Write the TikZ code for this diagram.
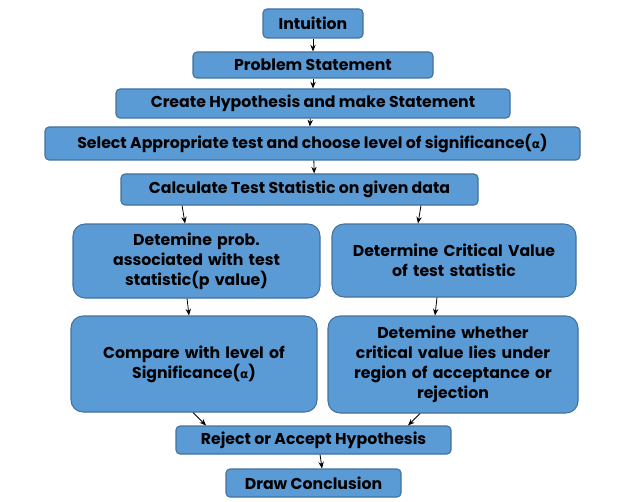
\documentclass[tikz,border=0pt]{standalone}
\usepackage{fontspec}
\setmainfont{Poppins}
\newfontfamily\grk{DejaVu Sans}
\usetikzlibrary{arrows.meta}
\begin{document}
\begin{tikzpicture}[x=0.75pt,y=-0.75pt,
 box/.style={line width=0.8pt, fill={rgb,255:red,91;green,155;blue,213}, font=\bfseries\fontsize{11.8}{15}\selectfont, align=center, inner sep=1pt, rounded corners=3pt},
 big/.style={box, rounded corners=9pt},
 arr/.style={-{Stealth[length=5pt,width=4pt]}, line width=0.6pt}]
\useasboundingbox (0,0) rectangle (634,502);
\definecolor{bd}{RGB}{65,113,156}
\tikzset{box/.append style={draw=bd}}
\node[box,minimum width=75pt,minimum height=21.75pt] (intu) at (313,23.5) {Intuition};
\node[box,minimum width=180pt,minimum height=19.5pt] (prob) at (313,65) {Problem Statement};
\node[box,minimum width=295.5pt,minimum height=21.75pt] (hyp) at (313,103.5) {Create Hypothesis and make Statement};
\node[box,minimum width=401.25pt,minimum height=24.75pt] (sel) at (312.5,143.5) {Select Appropriate test and choose level of significance({\grk\small α})};
\node[box,minimum width=267.75pt,minimum height=23.25pt] (calc) at (299.5,189.5) {Calculate Test Statistic on given data};
\node[big,minimum width=185.25pt,minimum height=55.5pt,text width=180pt] (pv) at (196.5,261) {Detemine prob.\\associated with test\\statistic(p value)};
\node[big,minimum width=183pt,minimum height=54.75pt,text width=180pt] (cv) at (454,260.5) {Determine Critical Value\\of test statistic\\[10pt]};
\node[big,minimum width=184.5pt,minimum height=72pt,text width=180pt] (cmp) at (194,364) {Compare with level of\\Significance({\grk\small α})\\[14pt]};
\node[big,minimum width=187.5pt,minimum height=72.75pt,text width=185pt] (wh) at (453,364.5) {Detemine whether\\critical value lies under\\region of acceptance or\\rejection};
\node[box,minimum width=206.25pt,minimum height=21pt] (rej) at (313.5,440) {Reject or Accept Hypothesis};
\node[box,minimum width=131.25pt,minimum height=21pt] (dc) at (313.5,483) {Draw Conclusion};
\draw[arr] (intu.south) -- (prob.north);
\draw[arr] (prob.south) -- (hyp.north);
\draw[arr] ([xshift=-2pt]hyp.south) -- ([xshift=-2pt]sel.north);
\draw[arr] ([xshift=1pt]sel.south) -- ([xshift=11pt]calc.north);
\draw[arr] ([xshift=-88.1pt]calc.south) -- ([xshift=-8.6pt]pv.north);
\draw[arr] ([xshift=91.1pt]calc.south) -- ([xshift=-27pt]cv.north);
\draw[arr] ([xshift=-7.1pt]pv.south) -- ([xshift=-3.75pt]cmp.north);
\draw[arr] ([xshift=-12.75pt]cv.south) -- ([xshift=-13.5pt]wh.north);
\draw[arr] ([xshift=-0.75pt]cmp.south) -- ([xshift=-80.6pt]rej.north);
\draw[arr] ([xshift=-24.75pt]wh.south) -- ([xshift=70.9pt]rej.north);
\draw[arr] ([xshift=4.9pt]rej.south) -- ([xshift=6.4pt]dc.north);
\end{tikzpicture}
\end{document}
